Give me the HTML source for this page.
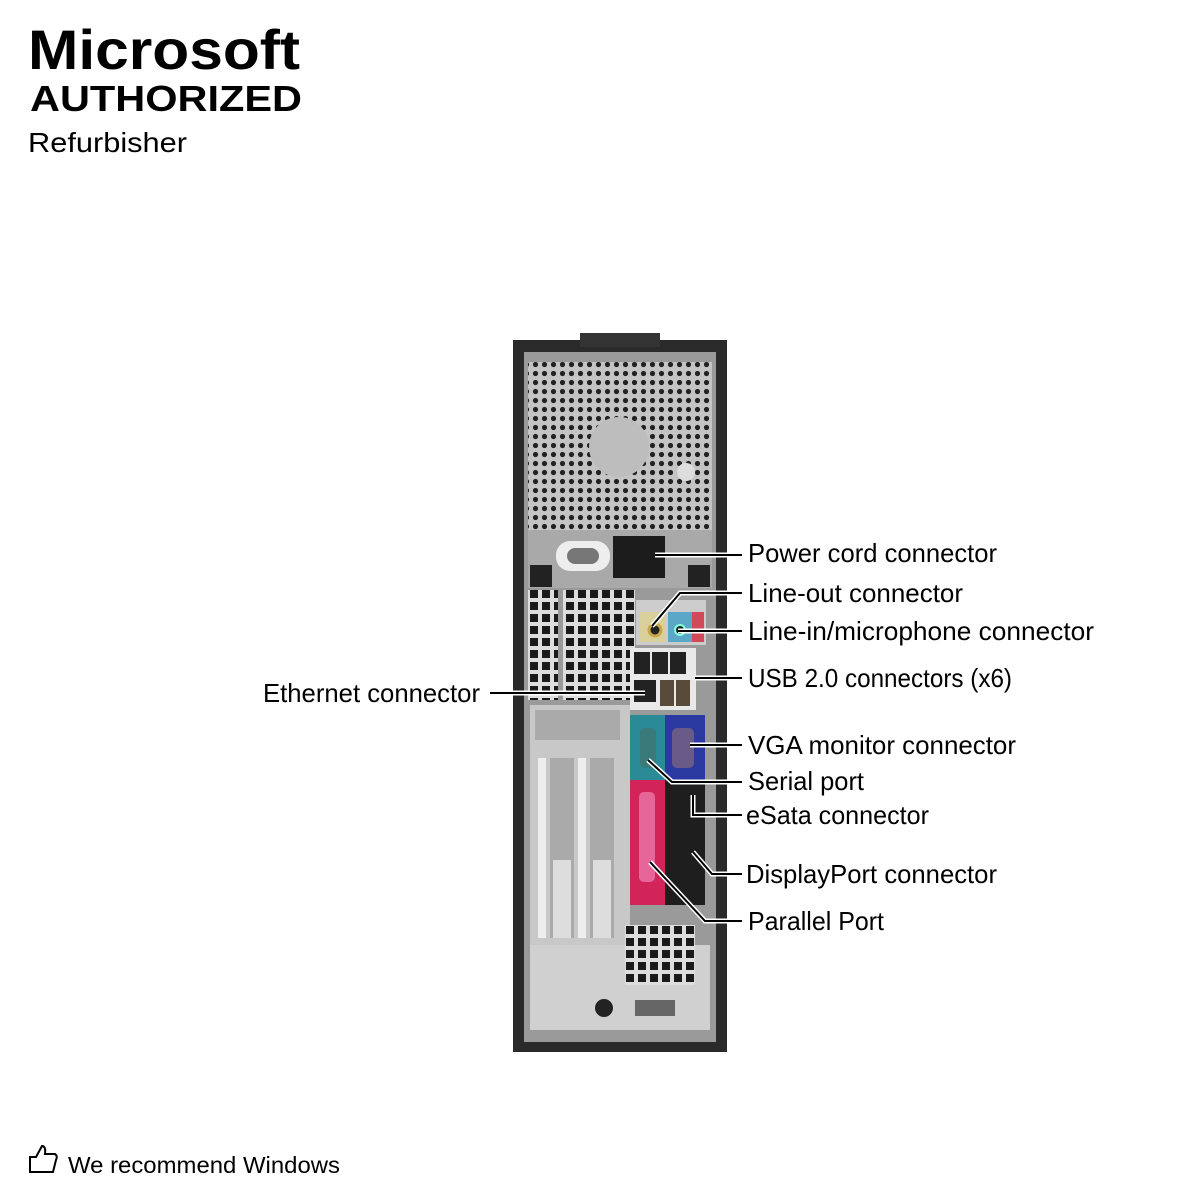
<!DOCTYPE html>
<html><head><style>
html,body{margin:0;padding:0;background:#fff;width:1200px;height:1200px;overflow:hidden}
svg{display:block}
text{font-family:"Liberation Sans",sans-serif}
</style></head><body>
<svg width="1200" height="1200" viewBox="0 0 1200 1200" xmlns="http://www.w3.org/2000/svg">
<defs>
<pattern id="dots" width="9" height="9" patternUnits="userSpaceOnUse"><rect width="9" height="9" fill="#c4c4c4"/><circle cx="4.5" cy="4.5" r="2.6" fill="#222"/></pattern>
<pattern id="grid" width="12" height="12" patternUnits="userSpaceOnUse"><rect width="12" height="12" fill="#ddd"/><rect x="2" y="2" width="8" height="8" fill="#1a1a1a"/></pattern>
</defs>
<text x="28" y="69" font-size="56" font-weight="bold" textLength="272" lengthAdjust="spacingAndGlyphs">Microsoft</text>
<text x="30" y="111" font-size="36" font-weight="bold" textLength="272" lengthAdjust="spacingAndGlyphs">AUTHORIZED</text>
<text x="28" y="152" font-size="28" textLength="159" lengthAdjust="spacingAndGlyphs">Refurbisher</text>

<rect x="513" y="340" width="214" height="712" fill="#2a2a2a"/>
<rect x="580" y="333" width="80" height="14" fill="#333"/>
<rect x="524" y="352" width="192" height="690" fill="#9a9a9a"/>
<rect x="528" y="362" width="184" height="168" fill="url(#dots)"/>
<circle cx="619" cy="447" r="30" fill="#bdbdbd"/>
<circle cx="686" cy="472" r="9" fill="#ddd"/>
<rect x="528" y="530" width="184" height="58" fill="#a9a9a9"/>
<rect x="556" y="541" width="54" height="30" rx="14" fill="#eee"/>
<rect x="567" y="548" width="32" height="16" rx="8" fill="#777"/>
<rect x="613" y="536" width="52" height="42" fill="#1c1c1c"/>
<rect x="530" y="565" width="22" height="22" fill="#222"/>
<rect x="688" y="565" width="22" height="22" fill="#222"/>
<rect x="528" y="590" width="30" height="110" fill="url(#grid)"/>
<rect x="563" y="590" width="72" height="110" fill="url(#grid)"/>
<rect x="636" y="600" width="70" height="45" fill="#ccc"/>
<rect x="640" y="612" width="26" height="30" fill="#d9cf9a"/>
<circle cx="655" cy="630" r="6" fill="#222" stroke="#c8a64a" stroke-width="3"/>
<rect x="668" y="612" width="24" height="30" fill="#5aa7c8"/>
<rect x="692" y="612" width="12" height="30" fill="#d24a5a"/>
<circle cx="680" cy="630" r="5" fill="#222" stroke="#8fd" stroke-width="2"/>
<rect x="630" y="648" width="66" height="62" fill="#e9e9e9"/>
<rect x="634" y="652" width="16" height="22" fill="#222"/><rect x="652" y="652" width="16" height="22" fill="#222"/><rect x="670" y="652" width="16" height="22" fill="#222"/>
<rect x="660" y="680" width="14" height="26" fill="#5a4a3a"/><rect x="676" y="680" width="14" height="26" fill="#5a4a3a"/>
<rect x="634" y="680" width="22" height="22" fill="#222"/>
<rect x="530" y="705" width="100" height="240" fill="#c8c8c8"/>
<rect x="535" y="710" width="85" height="30" fill="#aaa"/>
<rect x="538" y="758" width="8" height="180" fill="#eee"/>
<rect x="550" y="758" width="24" height="180" fill="#aaa"/>
<rect x="578" y="758" width="8" height="180" fill="#eee"/>
<rect x="590" y="758" width="24" height="180" fill="#aaa"/>
<rect x="553" y="860" width="18" height="78" fill="#ddd"/>
<rect x="593" y="860" width="18" height="78" fill="#ddd"/>
<rect x="630" y="715" width="35" height="65" fill="#2a8a96"/>
<rect x="665" y="715" width="40" height="65" fill="#2a3aa0"/>
<rect x="640" y="728" width="16" height="40" rx="5" fill="#3a7a7a"/>
<rect x="672" y="728" width="22" height="40" rx="5" fill="#6a5a8a"/>
<rect x="630" y="780" width="35" height="125" fill="#d3245a"/>
<rect x="639" y="792" width="16" height="90" rx="5" fill="#e7669a"/>
<rect x="665" y="780" width="40" height="125" fill="#1e1e1e"/>
<rect x="530" y="945" width="180" height="85" fill="#d0d0d0"/>
<rect x="625" y="925" width="70" height="60" fill="url(#grid)"/>
<circle cx="604" cy="1008" r="9" fill="#222"/>
<rect x="635" y="1000" width="40" height="16" fill="#666"/>

<g stroke="#fff" stroke-width="5" fill="none">
<path d="M655 555H742M652 626L680 593H742M678 631H742M695 678H742M490 693H645M690 745H742M648 760L672 782H742M693 795V815H742M693 852L712 874H742M650 862L705 921H742"/>
</g>
<g stroke="#000" stroke-width="2" fill="none">
<path d="M655 555H742M652 626L680 593H742M678 631H742M695 678H742M490 693H645M690 745H742M648 760L672 782H742M693 795V815H742M693 852L712 874H742M650 862L705 921H742"/>
</g>
<g font-size="26" fill="#000">
<text x="748" y="562" textLength="249" lengthAdjust="spacingAndGlyphs">Power cord connector</text>
<text x="748" y="602" textLength="215" lengthAdjust="spacingAndGlyphs">Line-out connector</text>
<text x="748" y="640" textLength="346" lengthAdjust="spacingAndGlyphs">Line-in/microphone connector</text>
<text x="748" y="687" textLength="264" lengthAdjust="spacingAndGlyphs">USB 2.0 connectors (x6)</text>
<text x="263" y="702" textLength="217" lengthAdjust="spacingAndGlyphs">Ethernet connector</text>
<text x="748" y="754" textLength="268" lengthAdjust="spacingAndGlyphs">VGA monitor connector</text>
<text x="748" y="790" textLength="116" lengthAdjust="spacingAndGlyphs">Serial port</text>
<text x="746" y="824" textLength="183" lengthAdjust="spacingAndGlyphs">eSata connector</text>
<text x="746" y="883" textLength="251" lengthAdjust="spacingAndGlyphs">DisplayPort connector</text>
<text x="748" y="930" textLength="136" lengthAdjust="spacingAndGlyphs">Parallel Port</text>
</g>
<path d="M30 1172V1157H36L42 1146Q46 1146 45 1154H55Q58 1156 56 1160L53 1172Z" fill="none" stroke="#000" stroke-width="2"/>
<text x="68" y="1173" font-size="23" textLength="272" lengthAdjust="spacingAndGlyphs">We recommend Windows</text>
</svg>
</body></html>
